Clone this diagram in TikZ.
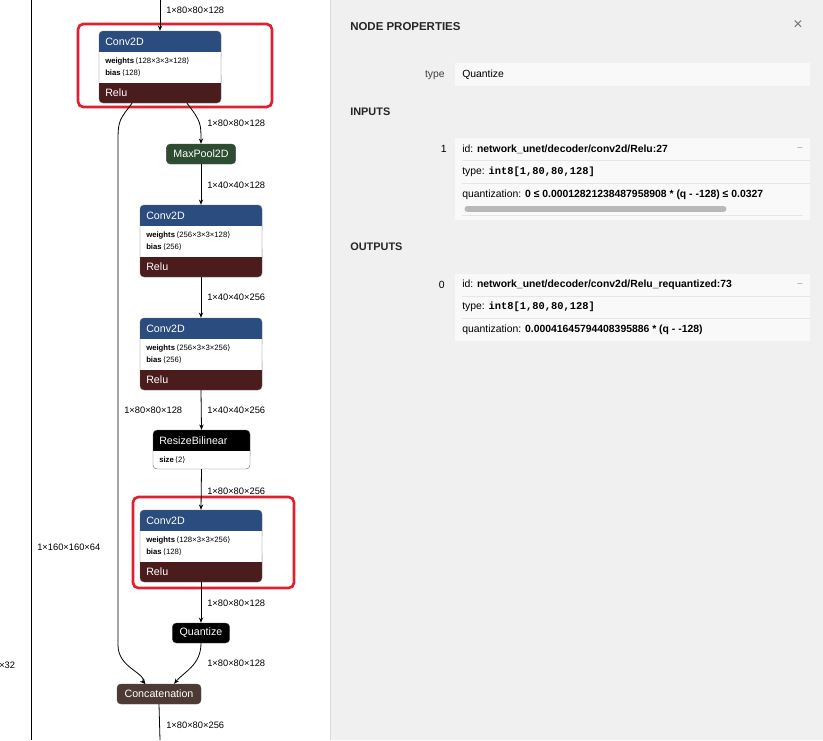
\documentclass[tikz,border=0pt]{standalone}
\usepackage{fontspec}
\setmainfont{Liberation Sans}
\newfontfamily\djv{DejaVu Sans}
\newfontfamily\lmono{Liberation Mono}
\usetikzlibrary{calc,arrows.meta}
\definecolor{convblue}{HTML}{2B4C7E}
\definecolor{relured}{HTML}{4A1C1C}
\definecolor{poolgreen}{HTML}{2D4D33}
\definecolor{catbrown}{HTML}{4E3A34}
\definecolor{hilite}{HTML}{E0202E}
\definecolor{panel}{HTML}{F0F0F0}
\definecolor{cellbg}{HTML}{F9F9F9}
\definecolor{sepline}{HTML}{E6E6E6}
\tikzset{
  arr/.style={draw=black,line width=0.6pt,-{Stealth[length=4pt,width=3.2pt]}},
  ln/.style={draw=black,line width=0.6pt},
  lbl/.style={font=\fontsize{7}{8}\selectfont,anchor=west,inner sep=0pt},
  hdr/.style={font=\fontsize{8}{9}\selectfont,text=white,anchor=west,inner sep=0pt},
  bod/.style={font=\fontsize{5.8}{7}\selectfont,anchor=west,inner sep=0pt,align=left},
  pill/.style={rounded corners=3pt,draw=black!70,line width=0.3pt,font=\fontsize{8}{9}\selectfont,text=white,inner sep=0pt,minimum height=15pt},
  redbox/.style={draw=hilite,line width=2pt,rounded corners=4pt},
  ptxt/.style={font=\fontsize{7.8}{9}\selectfont,anchor=west,inner sep=0pt},
  phead/.style={font=\bfseries\fontsize{8.2}{9}\selectfont,anchor=west,inner sep=0pt,text=black!85},
}
\newcommand{\convblk}[5]{%
  \fill[relured,rounded corners=3pt] (#2-61,#3+40) rectangle (#2+61,#3+72);
  \fill[white] (#2-61,#3+20) rectangle (#2+61,#3+52);
  \fill[convblue,rounded corners=3pt] (#2-61,#3) rectangle (#2+61,#3+30);
  \fill[white] (#2-61,#3+21) rectangle (#2+61,#3+52);
  \node[draw=black!60,line width=0.3pt,rounded corners=3pt,minimum width=91.5pt,minimum height=54pt,inner sep=0pt] (#1) at (#2,#3+36) {};
  \node[hdr] at (#2-55,#3+11) {Conv2D};
  \node[bod] at (#2-55,#3+30) {\textbf{weights}\,{\djv ⟨}#4{\djv ⟩}};
  \node[bod] at (#2-55,#3+42) {\textbf{bias}\,{\djv ⟨}#5{\djv ⟩}};
  \node[hdr] at (#2-55,#3+62) {Relu};
}
\begin{document}
\begin{tikzpicture}[x=0.75pt,y=-0.75pt]
\useasboundingbox (0,0) rectangle (823,740);
\fill[white] (0,0) rectangle (330,740);
\fill[panel] (330,0) rectangle (823,740);
\draw[black!15,line width=0.5pt] (330,0) -- (330,740);
% left line
\draw[ln] (31,0) -- (31,740);
\node[lbl] at (37,547) {1×160×160×64};
\node[lbl] at (-1,665) {×32};
% blocks
\convblk{c1}{160}{31}{128×3×3×128}{128}
\convblk{c2}{201}{205}{256×3×3×128}{256}
\convblk{c3}{201}{318}{256×3×3×256}{256}
\convblk{c4}{201}{510}{128×3×3×256}{128}
\node[pill,fill=poolgreen,minimum width=52pt] (mp) at (201,154) {MaxPool2D};
% resize
\fill[black,rounded corners=3pt] (153,430) rectangle (250,460);
\fill[white] (153,451) rectangle (250,462);
\node[draw=black!60,line width=0.3pt,rounded corners=3pt,minimum width=72.75pt,minimum height=29.25pt,inner sep=0pt] (rb) at (201.5,449.5) {};
\node[hdr] at (159,441) {ResizeBilinear};
\node[bod] at (159,460) {\textbf{size}\,{\djv ⟨}2{\djv ⟩}};
\node[pill,fill=black,minimum width=43pt] (qz) at (201,633) {Quantize};
\node[pill,fill=catbrown,minimum width=63pt] (cc) at (159,694) {Concatenation};
% highlights
\draw[redbox] (78,24) rectangle (272,107);
\draw[redbox] (133,497) rectangle (294,588);
% edges
\coordinate (top) at (160,0);
\coordinate (bot) at (160,740);
\draw[arr] (top) -- (c1.north);
\node[lbl] at (166,10) {1×80×80×128};
\draw[arr] ($(c1.south)+(27,0)$) .. controls +(14,18) and +(0,-20) .. (mp.north);
\node[lbl] at (207,123) {1×80×80×128};
\draw[ln] ($(c1.south)+(-28,0)$) .. controls +(-12,16) and +(0,-20) .. (118,140) -- (118,645)
  .. controls (118,668) and ($(cc.north)+(-14,-12)$) .. ($(cc.north)+(-14,0)$);
\draw[-{Stealth[length=4pt,width=3.2pt]},line width=0.6pt] ($(cc.north)+(-15,-1)$) -- ($(cc.north)+(-14,0)$);
\node[lbl] at (124,410) {1×80×80×128};
\draw[arr] (mp.south) -- (c2.north);
\node[lbl] at (207,185) {1×40×40×128};
\draw[arr] (c2.south) -- (c3.north);
\node[lbl] at (207,297) {1×40×40×256};
\draw[arr] (c3.south) -- (rb.north);
\node[lbl] at (207,410) {1×40×40×256};
\draw[arr] (rb.south) -- (c4.north);
\node[lbl] at (207,491) {1×80×80×256};
\draw[arr] (c4.south) -- (qz.north);
\node[lbl] at (207,603) {1×80×80×128};
\draw[arr] (qz.south) .. controls +(0,22) and +(10,-12) .. ($(cc.north)+(15,0)$);
\node[lbl] at (207,663) {1×80×80×128};
\draw[ln] (cc.south) -- (bot);
\node[lbl] at (166,725) {1×80×80×256};
% right panel
\node[phead,font=\bfseries\fontsize{8.6}{10}\selectfont] (title) at (350,27) {NODE PROPERTIES};
\node[font=\fontsize{12}{12}\selectfont,text=black!55,inner sep=0pt] (close) at (798,25) {×};
\node[ptxt,anchor=east,text=black!75] (tlab) at (445,75) {type};
\fill[cellbg] (455,63) rectangle (810,86);
\node[ptxt] (tval) at (462,75) {Quantize};
\node[phead] (inp) at (350,112) {INPUTS};
\node[ptxt,anchor=east] (i1) at (447,149) {1};
\fill[cellbg] (455,138) rectangle (810,220);
\draw[sepline] (462,160) -- (810,160);
\draw[sepline] (462,183) -- (810,183);
\draw[sepline] (462,215) -- (803,215);
\node[ptxt] at (462,149) {id: \textbf{network\_unet/decoder/conv2d/Relu:27}};
\node[text=black!40,inner sep=0pt,font=\fontsize{7}{7}\selectfont] at (800,149) {–};
\node[ptxt] at (462,172) {type: {\lmono\bfseries int8[1,80,80,128]}};
\begin{scope}
\clip (455,183) rectangle (803,205);
\node[ptxt] at (462,195) {quantization: \textbf{0 ≤ 0.00012821238487958908 * (q - -128) ≤ 0.0327}};
\end{scope}
\draw[black!28,line width=5.2pt,line cap=round] (468,209) -- (723,209);
\node[phead] (outp) at (350,247) {OUTPUTS};
\node[ptxt,anchor=east] (o0) at (445,285) {0};
\fill[cellbg] (455,274) rectangle (810,341);
\draw[sepline] (462,296) -- (810,296);
\draw[sepline] (462,318) -- (810,318);
\node[ptxt] at (462,285) {id: \textbf{network\_unet/decoder/conv2d/Relu\_requantized:73}};
\node[text=black!40,inner sep=0pt,font=\fontsize{7}{7}\selectfont] at (800,285) {–};
\node[ptxt] at (462,307) {type: {\lmono\bfseries int8[1,80,80,128]}};
\node[ptxt] at (462,330) {quantization: \textbf{0.00041645794408395886 * (q - -128)}};
\end{tikzpicture}
\end{document}
